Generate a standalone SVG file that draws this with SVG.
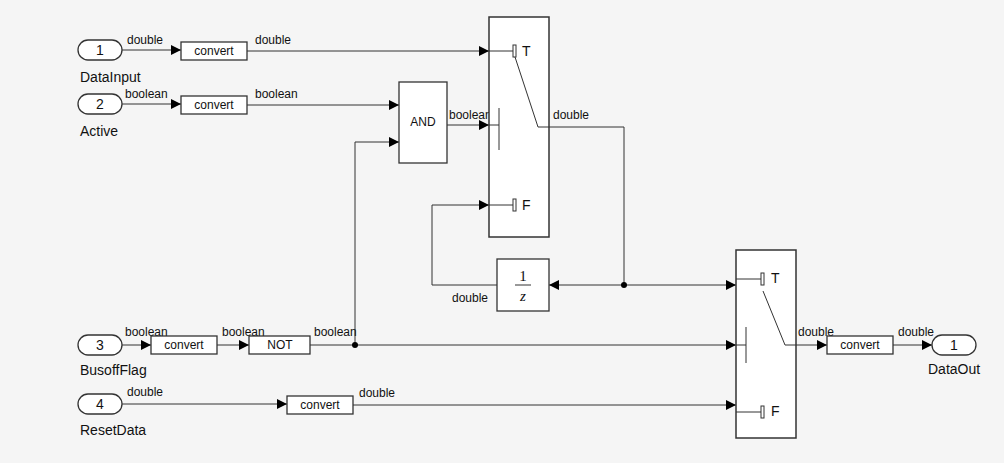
<svg xmlns="http://www.w3.org/2000/svg" width="1004" height="463" viewBox="0 0 1004 463">
<defs>
<marker id="a" markerWidth="10" markerHeight="10" refX="10" refY="5" orient="auto" markerUnits="userSpaceOnUse"><path d="M0,0 L10,5 L0,10 Z" fill="#000"/></marker>
<style>
.b{fill:#fff;stroke:#333;stroke-width:1.3}
.sw{fill:#fff;stroke:#333;stroke-width:1.5}
.l{fill:none;stroke:#333;stroke-width:1}
.c{fill:none;stroke:#333;stroke-width:1;marker-end:url(#a)}
text{font-family:"Liberation Sans",Arial,sans-serif;font-size:12px;fill:#111}
.m{text-anchor:middle}
.p{font-size:14px}
</style>
</defs>
<rect width="1004" height="463" fill="#f5f5f5"/>
<g id="connectors">
<path class="c" d="M122,50 H181"/><path class="c" d="M247,51 H489"/>
<path class="c" d="M122,104 H181"/><path class="c" d="M247,105 H399"/>
<path class="c" d="M355,345 V142 H399"/>
<path class="c" d="M447,125 H489"/>
<path class="l" d="M549,127 H624 V285"/>
<path class="c" d="M624,285 H549"/>
<path class="c" d="M497,285 H432 V205 H489"/>
<path class="c" d="M624,285 H736"/>
<circle cx="624" cy="285" r="3" fill="#000"/>
<path class="c" d="M122,345 H151"/><path class="c" d="M217,345 H249"/>
<path class="c" d="M310,345 H736"/>
<circle cx="355" cy="345" r="3" fill="#000"/>
<path class="c" d="M122,404 H287"/><path class="c" d="M353,405 H736"/>
<path class="c" d="M796,345 H827"/><path class="c" d="M893,345 H932"/>
<text x="127" y="44">double</text><text x="255" y="44">double</text>
<text x="125" y="98">boolean</text><text x="255" y="98">boolean</text>
<text x="449" y="119">boolean</text><text x="553" y="119">double</text>
<text x="452" y="302">double</text>
<text x="125" y="336">boolean</text><text x="222" y="336">boolean</text><text x="314" y="336">boolean</text>
<text x="127" y="396">double</text><text x="359" y="397">double</text>
<text x="798" y="336">double</text><text x="898" y="336">double</text>
</g>
<g id="in1"><rect class="b" x="78" y="40" width="44" height="20" rx="10"/><text class="m p" x="100" y="55">1</text><text class="p" x="80" y="82">DataInput</text></g>
<g id="in2"><rect class="b" x="78" y="94" width="44" height="20" rx="10"/><text class="m p" x="100" y="109">2</text><text class="p" x="80" y="136">Active</text></g>
<g id="in3"><rect class="b" x="78" y="335" width="44" height="20" rx="10"/><text class="m p" x="100" y="350">3</text><text class="p" x="80" y="375">BusoffFlag</text></g>
<g id="in4"><rect class="b" x="78" y="394" width="44" height="20" rx="10"/><text class="m p" x="100" y="409">4</text><text class="p" x="80" y="435">ResetData</text></g>
<g id="conv1"><rect class="b" x="181" y="42" width="66" height="18"/><text class="m" x="214" y="55">convert</text></g>
<g id="conv2"><rect class="b" x="181" y="96" width="66" height="18"/><text class="m" x="214" y="109">convert</text></g>
<g id="conv3"><rect class="b" x="151" y="336" width="66" height="18"/><text class="m" x="184" y="349">convert</text></g>
<g id="not"><rect class="b" x="249" y="336" width="61" height="18"/><text class="m" x="280" y="349">NOT</text></g>
<g id="conv4"><rect class="b" x="287" y="396" width="66" height="18"/><text class="m" x="320" y="409">convert</text></g>
<g id="conv5"><rect class="b" x="827" y="336" width="66" height="18"/><text class="m" x="860" y="349">convert</text></g>
<g id="and"><rect class="b" x="399" y="82" width="48" height="81"/><text class="m" x="423" y="126">AND</text></g>
<g id="delay"><rect class="b" x="497" y="259" width="52" height="52"/><text class="m" x="523" y="281" style="font-family:'Liberation Serif',serif;font-size:15px">1</text><line class="l" x1="515" y1="285" x2="531" y2="285"/><text class="m" x="523" y="301" style="font-family:'Liberation Serif',serif;font-style:italic;font-size:15px">z</text></g>
<g id="switch1"><rect class="sw" x="489" y="17" width="60" height="220"/>
<path class="l" d="M489,51 H513 M499,108 V150 M489,125 H499 M489,205 H513 M515,57 L538,127 H549"/>
<rect class="l" x="513" y="45" width="3" height="12"/><rect class="l" x="513" y="199" width="3" height="12"/>
<text class="p" x="522" y="56">T</text><text class="p" x="522" y="210">F</text></g>
<g id="outport"><rect class="b" x="932" y="335" width="44" height="20" rx="10"/><text class="m p" x="954" y="350">1</text><text class="p" x="928" y="374">DataOut</text></g>
<g id="switch2"><rect class="sw" x="736" y="250" width="60" height="188"/>
<path class="l" d="M736,279 H761 M746,327 V363 M736,345 H746 M736,412 H761 M763,291 L785,345 H796"/>
<rect class="l" x="761" y="273" width="3" height="12"/><rect class="l" x="761" y="406" width="3" height="12"/>
<text class="p" x="771" y="283">T</text><text class="p" x="771" y="416">F</text></g>
</svg>
